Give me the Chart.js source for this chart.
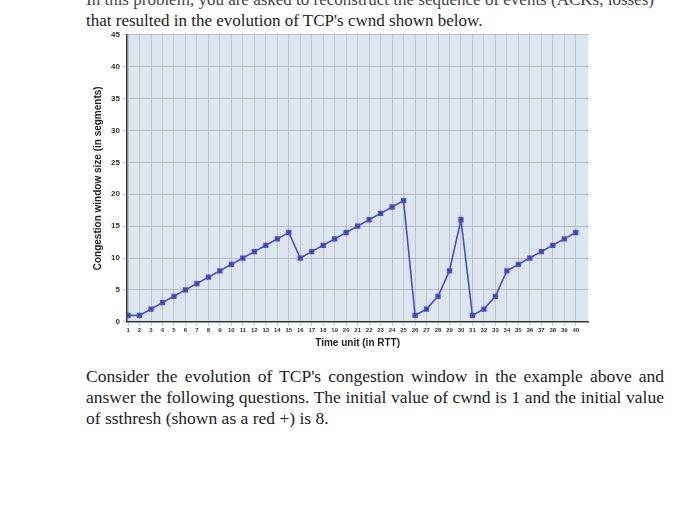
<!DOCTYPE html>
<html>
<head>
<meta charset="utf-8">
<script src="https://cdn.jsdelivr.net/npm/chart.js@4"></script>
<style>
  body { margin:0; width:700px; height:507px; background:#fff; overflow:hidden; position:relative; font-family:"Liberation Serif", serif; color:#222; }
  .txt { position:absolute; font-size:17px; line-height:21px; }
  #box { position:absolute; left:84px; top:27px; width:510px; height:326px; }
</style>
</head>
<body>
<div class="txt" style="left:86px; top:-11px; color:#444;">In this problem, you are asked to reconstruct the sequence of events (ACKs, losses)</div>
<div class="txt" style="left:86px; top:10px;">that resulted in the evolution of TCP's cwnd shown below.</div>
<div id="box"><canvas id="chart"></canvas></div>
<div class="txt" style="left:86px; top:366px; width:578px; text-align:justify; font-size:17.5px; color:#222;">Consider the evolution of TCP's congestion window in the example above and answer the following questions. The initial value of cwnd is 1 and the initial value of ssthresh (shown as a red +) is 8.</div>
<script>
// ============================================================
// Data
// ============================================================
var timeUnits = [];
for (var t = 1; t <= 40; t++) { timeUnits.push(t); }
var cwndValues = [1, 1, 2, 3, 4, 5, 6, 7, 8, 9, 10, 11, 12, 13, 14,
                  10, 11, 12, 13, 14, 15, 16, 17, 18, 19,
                  1, 2, 4, 8, 16,
                  1, 2, 4,
                  8, 9, 10, 11, 12, 13, 14];
var yTicks = [0, 5, 10, 15, 20, 25, 30, 35, 40, 45];

var points = timeUnits.map(function (t, i) { return { x: t, y: cwndValues[i] }; });

// plot background
var bgPlugin = {
  id: "bg",
  beforeDraw: function (c) {
    var a = c.chartArea, ctx = c.ctx;
    ctx.save();
    ctx.fillStyle = "#dde5ee";
    ctx.fillRect(a.left, a.top, a.right - a.left, a.bottom - a.top);
    ctx.restore();
  }
};

new Chart(document.getElementById("chart"), {
  type: "line",
  data: {
    datasets: [{
      data: points,
      borderColor: "#4a4fc4",
      backgroundColor: "#3a3fb8",
      borderWidth: 1.6,
      pointStyle: "rect",
      pointRadius: 2.6,
      tension: 0
    }]
  },
  plugins: [bgPlugin],
  options: {
    responsive: true,
    maintainAspectRatio: false,
    animation: false,
    layout: { padding: { left: 4, top: 4 } },
    plugins: { legend: { display: false }, tooltip: { enabled: false } },
    scales: {
      x: {
        type: "linear",
        min: 0.9, max: 41.1,
        afterBuildTicks: function (ax) { ax.ticks = timeUnits.map(function (v) { return { value: v }; }); },
        grid: { color: "#b3bcc6", lineWidth: 0.8, tickLength: 4 },
        border: { color: "#333", width: 1.5 },
        ticks: { autoSkip: false, maxRotation: 0, font: { family: "Liberation Sans", size: 6, weight: "bold" }, color: "#333", padding: 1 },
        title: { display: true, text: "Time unit (in RTT)", font: { family: "Liberation Sans", size: 10, weight: "bold" }, color: "#222", padding: { top: 2 } }
      },
      y: {
        min: 0, max: 45,
        afterBuildTicks: function (ax) { ax.ticks = yTicks.map(function (v) { return { value: v }; }); },
        grid: { color: "#a9b2bc", lineWidth: 0.8, tickLength: 4 },
        border: { color: "#333", width: 1.5 },
        ticks: { font: { family: "Liberation Sans", size: 8, weight: "bold" }, color: "#333", padding: 3 },
        title: { display: true, text: "Congestion window size (in segments)", font: { family: "Liberation Sans", size: 10, weight: "bold" }, color: "#222" }
      }
    }
  }
});
</script>
</body>
</html>
